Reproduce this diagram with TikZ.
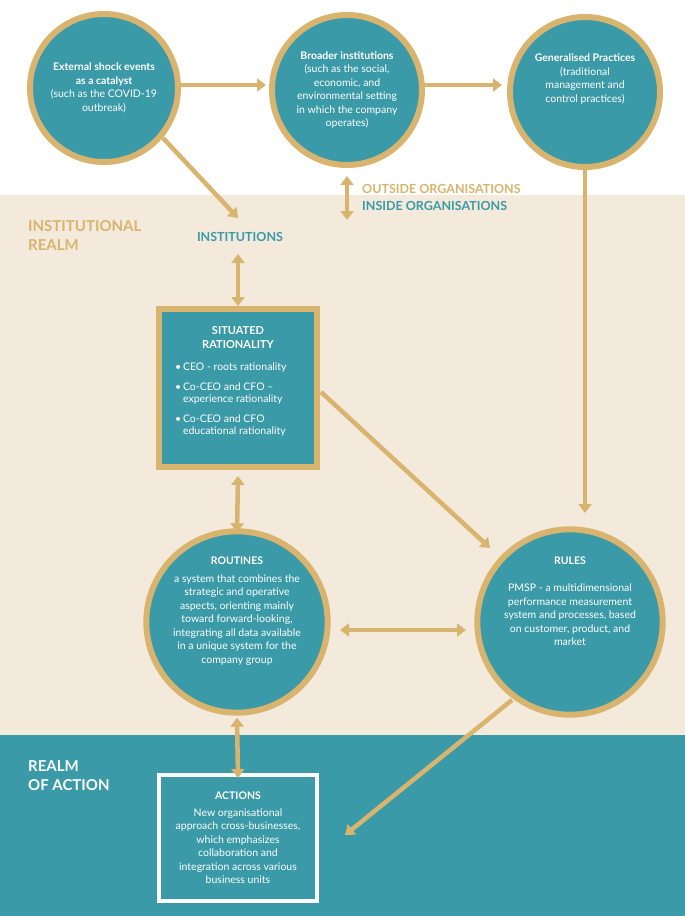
\documentclass[tikz,border=0pt]{standalone}
\usepackage{fontspec}
\setmainfont{Lato}
\usetikzlibrary{arrows.meta}
\definecolor{gold}{HTML}{D9B46E}
\definecolor{teal}{HTML}{3A9AA8}
\definecolor{beige}{HTML}{F3EADB}
\tikzset{
 circ/.style={circle,draw=gold,line width=6pt,fill=teal,text=white,minimum size=#1,inner sep=0pt,align=center,font=\fontsize{10.5}{13.5}\selectfont},
 arr/.style={draw=gold,line width=4.5pt,-{Triangle[width=13pt,length=9pt]}},
 darr/.style={draw=gold,line width=4.5pt,{Triangle[width=13pt,length=9pt]}-{Triangle[width=13pt,length=9pt]}},
 lab/.style={font=\bfseries\fontsize{12.5}{14}\selectfont,anchor=west,align=left,inner sep=0pt}
}
\begin{document}
\begin{tikzpicture}[x=1pt,y=-1pt]
\useasboundingbox (0,0) rectangle (685,916);
\fill[white] (0,0) rectangle (685,195);
\fill[beige] (0,195) rectangle (685,735);
\fill[teal] (0,735) rectangle (685,916);
\node[circ=148pt] (c1) at (104,88) {\textbf{External shock events}\\\textbf{as a catalyst}\\(such as the COVID-19\\outbreak)};
\node[circ=150pt] (c2) at (347,90) {\textbf{Broader institutions}\\(such as the social,\\economic, and\\environmental setting\\in which the company\\operates)};
\node[circ=150pt] (c3) at (585,92) {\textbf{Generalised Practices}\\(traditional\\management and\\control practices)\\[14pt]};
\coordinate (c1r) at (178,85); \coordinate (c2l) at (266,85);
\coordinate (c2r) at (422,85); \coordinate (c3l) at (502,85);
\draw[arr] (c1r) -- (c2l);
\draw[arr] (c2r) -- (c3l);
\coordinate (c1d) at (163,138); \coordinate (instT) at (238,218);
\draw[arr] (c1d) -- (instT);
\coordinate (oa) at (347,176); \coordinate (ob) at (347,220);
\draw[darr] (oa) -- (ob);
\node[lab,text=gold] (out) at (362,189) {OUTSIDE ORGANISATIONS};
\node[lab,text=teal] (in) at (362,206) {INSIDE ORGANISATIONS};
\node[lab,text=gold,font=\bfseries\fontsize{15}{19}\selectfont] (ir) at (28,236) {INSTITUTIONAL\\REALM};
\node[font=\bfseries\fontsize{12.5}{14}\selectfont,text=teal] (inst) at (240,237) {INSTITUTIONS};
\node[draw=gold,line width=6pt,fill=teal,minimum width=158pt,minimum height=158pt,inner sep=0pt] (sr) at (238,388) {};
\node[text=white,font=\bfseries\fontsize{11}{14}\selectfont,align=center] (srt) at (238,338) {SITUATED\\RATIONALITY};
\node[text=white,font=\fontsize{10.5}{12}\selectfont,align=left,anchor=north west,inner sep=0pt] (srl) at (175,363) {%
\textbullet\,CEO - roots rationality\\[8pt]
\textbullet\,Co-CEO and CFO –\\\phantom{\textbullet\,}experience rationality\\[8pt]
\textbullet\,Co-CEO and CFO\\\phantom{\textbullet\,}educational rationality};
\coordinate (i1) at (238,254);
\draw[darr] (i1) -- (sr.north);
\node[circ=180pt] (rout) at (237,622) {\textbf{ROUTINES}\\[4pt]a system that combines the\\strategic and operative\\aspects, orienting mainly\\toward forward-looking,\\integrating all data available\\in a unique system for the\\company group\\[10pt]};
\node[circ=182pt] (rules) at (570,622) {\textbf{RULES}\\[14pt]PMSP - a multidimensional\\performance measurement\\system and processes, based\\on customer, product, and\\market\\[28pt]};
\draw[darr] (sr.south) ++(0,6) coordinate (s1) -- ([yshift=-4pt]rout.north);
\coordinate (srd) at (321,392);
\draw[arr] (srd) -- (490,548);
\coordinate (c3b) at (585,167); \coordinate (r3) at (585,513);
\draw[arr] (c3b) -- (r3);
\coordinate (ra) at (340,630); \coordinate (rb) at (466,630);
\draw[darr] (ra) -- (rb);
\node[draw=white,line width=4pt,fill=teal,minimum width=158pt,minimum height=126pt,inner sep=0pt,text=white,align=center,font=\fontsize{10.5}{13.5}\selectfont] (act) at (238,838)
 {\textbf{ACTIONS}\\[3pt]New organisational\\approach cross-businesses,\\which emphasizes\\collaboration and\\integration across various\\business units};
\coordinate (rl) at (512,700);
\draw[arr] (rl) -- (345,835);
\draw[darr] ([yshift=-2pt]rout.south) -- ([yshift=-5pt]act.north);
\node[lab,text=white,font=\bfseries\fontsize{15}{19}\selectfont] (ra2) at (28,776) {REALM\\OF ACTION};
\end{tikzpicture}
\end{document}
